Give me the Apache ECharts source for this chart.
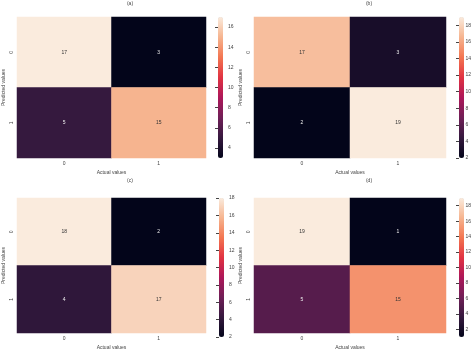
<!DOCTYPE html>
<meta charset="utf-8">
<title>Confusion matrices</title>
<style>
body { margin: 0; background: #fff; }
#main { width: 474px; height: 351px; }
</style>
<body>
<div id="main"></div>
<script src="https://cdn.jsdelivr.net/npm/echarts@6/dist/echarts.min.js"></script>
<script>
// data
var cats = ['0', '1'];
var panelNames = ['(a)', '(b)', '(c)', '(d)'];
var matA = [[17, 3], [5, 15]];
var matB = [[17, 3], [2, 19]];
var matC = [[18, 2], [4, 17]];
var matD = [[19, 1], [5, 15]];
var rangeA = [3, 17], rangeB = [2, 19], rangeC = [2, 18], rangeD = [1, 19];
var ticksA = [4, 6, 8, 10, 12, 14, 16];
var ticksB = [2, 4, 6, 8, 10, 12, 14, 16, 18];
var ticksC = [2, 4, 6, 8, 10, 12, 14, 16, 18];
var ticksD = [2, 4, 6, 8, 10, 12, 14, 16, 18];

var mats = [matA, matB, matC, matD];
var ranges = [rangeA, rangeB, rangeC, rangeD];
var ticks = [ticksA, ticksB, ticksC, ticksD];

// seaborn "rocket"
var rocket = ['#03051a', '#35193e', '#701f57', '#ad1759', '#e13342', '#f37651', '#f6b48f', '#faebdd'];

// layout of the four panels
var boxes = [
  {left: 14, top: 17, h: 141, cb: 218, tx: 130, ty: 1},
  {left: 254, top: 17, h: 141, cb: 459, tx: 369, ty: 1},
  {left: 14, top: 198, h: 139, cb: 219, tx: 130, ty: 178},
  {left: 254, top: 198, h: 139, cb: 459, tx: 369, ty: 178}
];
var W = 192;
var txt = '#444';

var grid = [], xAxis = [], yAxis = [], series = [], visualMap = [], title = [];

boxes.forEach(function (b, i) {
  var lo = ranges[i][0], hi = ranges[i][1];
  grid.push({left: b.left, top: b.top, width: W, height: b.h});
  grid.push({left: b.cb, top: b.top, width: 5, height: b.h});

  xAxis.push({
    type: 'category', data: cats, gridIndex: 2 * i,
    name: 'Actual values', nameLocation: 'middle', nameGap: 12,
    nameTextStyle: {fontSize: 5, color: txt},
    axisLine: {show: false}, splitArea: {show: false},
    axisTick: {alignWithLabel: true, length: 2, lineStyle: {color: '#444'}},
    axisLabel: {fontSize: 5, color: txt, margin: 3}
  });
  yAxis.push({
    type: 'category', data: cats, gridIndex: 2 * i, inverse: true,
    name: 'Predicted values', nameLocation: 'middle', nameGap: 11,
    nameTextStyle: {fontSize: 5, color: txt},
    axisLine: {show: false}, splitArea: {show: false},
    axisTick: {alignWithLabel: true, length: 2, lineStyle: {color: '#444'}},
    axisLabel: {fontSize: 5, color: txt, margin: 3, rotate: 90}
  });

  // colorbar tick axis
  xAxis.push({type: 'value', gridIndex: 2 * i + 1, show: false});
  yAxis.push({
    type: 'value', gridIndex: 2 * i + 1, position: 'right', min: lo, max: hi, z: 10,
    splitLine: {show: false}, axisLine: {show: false},
    axisTick: {show: true, inside: true, length: 3, customValues: ticks[i], lineStyle: {color: '#444'}},
    axisLabel: {fontSize: 5, color: txt, margin: 5, customValues: ticks[i]}
  });

  var mid = (lo + hi) / 2;
  var data = [];
  mats[i].forEach(function (row, r) {
    row.forEach(function (v, c) {
      data.push({value: [c, r, v], label: {color: v > mid ? '#333' : '#eee'}});
    });
  });
  series.push({
    type: 'heatmap', xAxisIndex: 2 * i, yAxisIndex: 2 * i, data: data,
    label: {show: true, fontSize: 5},
    emphasis: {disabled: true}
  });

  visualMap.push({
    type: 'continuous', seriesIndex: i, min: lo, max: hi,
    left: b.cb, top: b.top, itemWidth: 5, itemHeight: b.h, padding: 0,
    calculable: false, showLabel: false, hoverLink: false,
    inRange: {color: rocket}
  });

  title.push({
    text: panelNames[i], left: b.tx, top: b.ty, textAlign: 'center', padding: 0,
    textStyle: {fontSize: 5, fontWeight: 'normal', color: txt}
  });
});

var chart = echarts.init(document.getElementById('main'));
chart.setOption({
  backgroundColor: '#fff',
  animation: false,
  title: title,
  grid: grid,
  xAxis: xAxis,
  yAxis: yAxis,
  visualMap: visualMap,
  series: series
});
</script>
</body>
